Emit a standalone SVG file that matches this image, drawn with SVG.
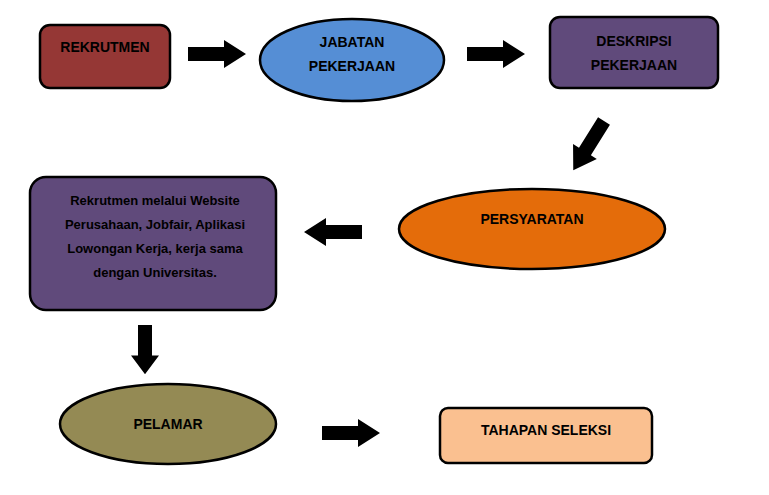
<svg xmlns="http://www.w3.org/2000/svg" width="769" height="495" viewBox="0 0 769 495">
<style>
.s{stroke:#000;stroke-width:2.5}
.t{font-family:"Liberation Sans",Arial,sans-serif;font-weight:bold;font-size:14px;fill:#000;text-anchor:middle}
.b{font-size:13px}
</style>
<defs>
<path id="ar" d="M0,-7 L36,-7 L36,-14 L58,0 L36,14 L36,7 L0,7 Z" fill="#000"/>
</defs>
<rect width="769" height="495" fill="#fff"/>
<g id="n1"><rect class="s" x="40" y="25" width="130" height="63" rx="10" fill="#953735"/><text class="t" x="105" y="52">REKRUTMEN</text></g>
<g id="n2"><ellipse class="s" cx="352" cy="60" rx="92" ry="41" fill="#558ED5"/><text class="t" x="352" y="47">JABATAN</text><text class="t" x="352" y="71">PEKERJAAN</text></g>
<g id="n3"><rect class="s" x="550" y="17" width="168" height="71" rx="10" fill="#604A7B"/><text class="t" x="634" y="46">DESKRIPSI</text><text class="t" x="634" y="70">PEKERJAAN</text></g>
<g id="n4"><ellipse class="s" cx="532" cy="229" rx="133" ry="40" fill="#E46C0A"/><text class="t" x="532" y="224">PERSYARATAN</text></g>
<g id="n5"><rect class="s" x="30" y="177" width="246" height="133" rx="16" fill="#604A7B"/>
<text class="t b" x="155" y="205">Rekrutmen melalui Website</text>
<text class="t b" x="155" y="229">Perusahaan, Jobfair, Aplikasi</text>
<text class="t b" x="155" y="253">Lowongan Kerja, kerja sama</text>
<text class="t b" x="155" y="277">dengan Universitas.</text></g>
<g id="n6"><ellipse class="s" cx="168" cy="424" rx="108" ry="40" fill="#948A54"/><text class="t" x="168" y="429">PELAMAR</text></g>
<g id="n7"><rect class="s" x="440" y="408" width="212" height="55" rx="8" fill="#FAC090"/><text class="t" x="546" y="435">TAHAPAN SELEKSI</text></g>
<g id="connectors">
<use href="#ar" transform="translate(188,54)"/>
<use href="#ar" transform="translate(467,54)"/>
<use href="#ar" transform="translate(604,121) rotate(122)"/>
<use href="#ar" transform="translate(362,232) rotate(180)"/>
<use href="#ar" transform="translate(145,325) rotate(90) scale(0.85,1)"/>
<use href="#ar" transform="translate(322,433)"/>
</g>
</svg>
